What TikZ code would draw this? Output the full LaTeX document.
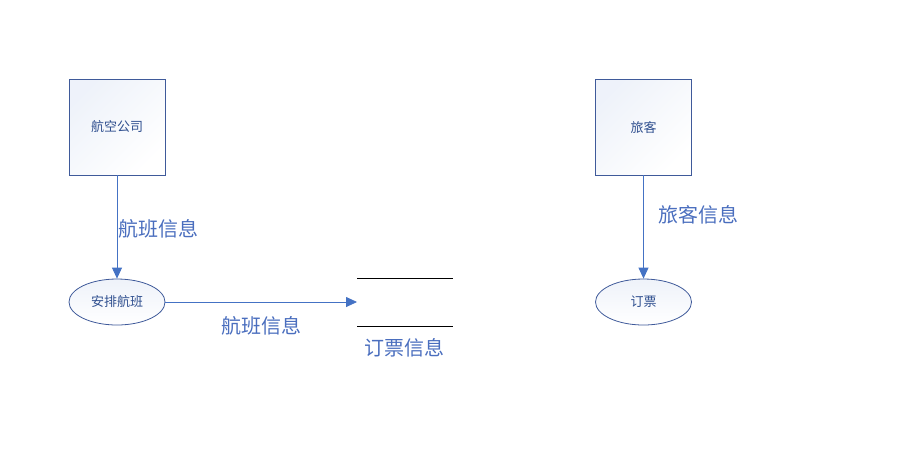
\documentclass[tikz,border=0pt]{standalone}
\usepackage{fontspec}
\setmainfont{Noto Sans CJK SC}
\usetikzlibrary{arrows.meta,shapes.geometric}
\definecolor{ln}{HTML}{4472C4}
\definecolor{bd}{HTML}{3F5A9A}
\definecolor{tx}{HTML}{2F4F8F}
\definecolor{lb}{HTML}{4A6EBE}
\tikzset{
 ent/.style={draw=bd, thick, minimum width=96pt, minimum height=96pt, shading=axis, top color=ln!9, bottom color=white, shading angle=45, text=tx, font=\fontsize{13}{15}\selectfont},
 proc/.style={ellipse, draw=bd, thick, minimum width=96pt, minimum height=46pt, inner sep=0pt, shading=axis, top color=ln!9, bottom color=white, text=tx, font=\fontsize{13}{15}\selectfont},
 flow/.style={draw=ln, thick, -{Triangle[length=11pt,width=10pt]}},
 lab/.style={text=lb, font=\fontsize{20}{23}\selectfont}
}
\begin{document}
\begin{tikzpicture}[x=1pt,y=-1pt]
\useasboundingbox (0,0) rectangle (912,451);
\node[ent] (air) at (117,127) {航空公司};
\node[ent] (pas) at (643.5,127) {旅客};
\node[proc] (arr) at (117,302) {安排航班};
\node[proc] (bk) at (643.5,302) {订票};
\coordinate (ds) at (357,302);
\coordinate (l1a) at (357,278); \coordinate (l1b) at (453,278);
\coordinate (l2a) at (357,326); \coordinate (l2b) at (453,326);
\draw[black] (l1a) -- (l1b);
\draw[black] (l2a) -- (l2b);
\draw[flow] (air) -- (arr);
\draw[flow] (arr) -- (ds);
\draw[flow] (pas) -- (bk);
\node[lab] (t1) at (158,229) {航班信息};
\node[lab] (t2) at (261,326) {航班信息};
\node[lab] (t3) at (404,348) {订票信息};
\node[lab] (t4) at (698,215) {旅客信息};
\end{tikzpicture}
\end{document}
